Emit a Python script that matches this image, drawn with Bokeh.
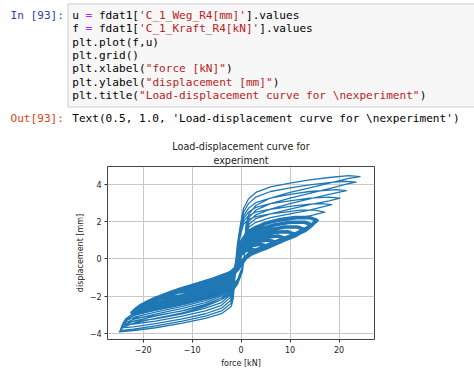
from bokeh.plotting import figure
from bokeh.layouts import column
from bokeh.models import Range1d, FixedTicker, CustomJSTickFormatter, ColumnDataSource, Title
from bokeh.core.properties import value
from bokeh.embed import file_html
from bokeh.resources import INLINE

# ---------------- data: (force [kN], displacement [mm]) ----------------
# small cycles (dense band)
loop_b1 = [(-4, -1.0), (-3, -0.85), (-2, -0.7), (-0.8, -0.42), (0.2, -0.1), (0.9, 0.03), (2, 0.25), (3, 0.45),
           (2, 0.5), (0.9, 0.42), (-0.1, 0.22), (-0.5, -0.1), (-1.0, -0.45), (-1.6, -0.75), (-2.5, -0.95), (-4, -1.0)]
loop_b2 = [(-7.3, -1.28), (-6.3, -1.15), (-4, -0.93), (-2, -0.73), (-0.8, -0.45), (0.2, -0.12), (0.9, 0.04), (2, 0.24),
           (4, 0.48), (5, 0.7),
           (3.8, 0.78), (2.2, 0.7), (1, 0.55), (-0.1, 0.3), (-0.5, -0.1), (-1.0, -0.5), (-1.6, -0.85), (-2.5, -1.1),
           (-5, -1.25), (-7.3, -1.28)]
loop_b3 = [(-10.8, -1.55), (-9.8, -1.42), (-7.3, -1.22), (-4, -0.96), (-2, -0.76), (-0.8, -0.48), (0.25, -0.14),
           (0.9, 0.05), (2, 0.25), (4.5, 0.52), (7, 0.9),
           (5.5, 1.0), (3.5, 0.92), (2, 0.8), (0.7, 0.6), (-0.2, 0.3), (-0.6, -0.15), (-1.1, -0.6), (-1.7, -0.95),
           (-2.7, -1.2), (-5, -1.4), (-8, -1.5), (-10.8, -1.55)]
loop_b4 = [(-14.1, -1.81), (-13, -1.68), (-10.8, -1.5), (-7.3, -1.25), (-4, -0.98), (-2, -0.78), (-0.8, -0.5),
           (0.3, -0.16), (1.0, 0.06), (2, 0.27), (5, 0.55), (7.5, 0.85), (9, 1.1),
           (7.5, 1.22), (5, 1.15), (3, 1.0), (1.5, 0.82), (0.3, 0.55), (-0.4, 0.2), (-0.7, -0.25), (-1.2, -0.7),
           (-1.8, -1.0), (-2.7, -1.28), (-5, -1.5), (-8, -1.65), (-11, -1.75), (-14.1, -1.81)]
loop_b5 = [(-17.5, -2.17), (-16.5, -2.02), (-14, -1.77), (-10.8, -1.52), (-7.3, -1.27), (-4, -1.0), (-2, -0.8),
           (-0.8, -0.53), (0.3, -0.18), (1.0, 0.07), (2, 0.28), (5, 0.57), (8, 0.9), (11, 1.3),
           (9.5, 1.45), (7, 1.42), (4.5, 1.28), (2.5, 1.1), (1.1, 0.9), (0.1, 0.6), (-0.4, 0.25), (-0.7, -0.2),
           (-1.2, -0.7), (-1.8, -1.05), (-2.7, -1.35), (-5, -1.6), (-8, -1.8), (-11, -1.95), (-14, -2.07),
           (-17.5, -2.17)]
loop_b6 = [(-20, -2.45), (-19, -2.3), (-17.5, -2.12), (-14, -1.8), (-10.8, -1.54), (-7.3, -1.3), (-4, -1.03),
           (-2, -0.83), (-0.8, -0.56), (0.3, -0.2), (1.0, 0.08), (2, 0.3), (5, 0.6), (8, 0.92), (11, 1.22), (13, 1.55),
           (11.5, 1.7), (9, 1.7), (6, 1.55), (3.5, 1.35), (1.7, 1.12), (0.5, 0.85), (-0.3, 0.5), (-0.6, 0.0),
           (-1.2, -0.6), (-1.7, -1.05), (-2.7, -1.45), (-5, -1.72), (-8, -1.92), (-11, -2.1), (-14, -2.25),
           (-17.5, -2.38), (-20, -2.45)]
loop_b7 = [(-21.5, -2.7), (-20.5, -2.5), (-17.5, -2.15), (-14, -1.83), (-10.8, -1.57), (-7.3, -1.32), (-4, -1.05),
           (-2, -0.85), (-0.8, -0.58), (0.3, -0.2), (1.0, 0.1), (2, 0.33), (5, 0.63), (8, 0.95), (11, 1.25), (13, 1.5),
           (14.5, 1.8),
           (13, 1.95), (10, 1.95), (7, 1.82), (4, 1.6), (2, 1.35), (0.6, 1.05), (-0.3, 0.65), (-0.6, 0.05),
           (-1.2, -0.6), (-1.7, -1.12), (-2.7, -1.55), (-5, -1.85), (-8, -2.05), (-11, -2.22), (-14, -2.38),
           (-17.5, -2.55), (-21.5, -2.7)]
loop_b8 = [(-22.3, -2.9), (-21, -2.62), (-17.5, -2.22), (-14, -1.88), (-10.8, -1.62), (-7.3, -1.36), (-4, -1.08),
           (-2, -0.88), (-0.8, -0.6), (0.3, -0.2), (1.0, 0.1), (2, 0.35), (5, 0.68), (8, 1.0), (11, 1.32), (13, 1.58),
           (14.5, 1.82), (15.5, 2.05),
           (14, 2.2), (11, 2.2), (8, 2.1), (5, 1.9), (2.5, 1.6), (0.9, 1.25), (-0.2, 0.8), (-0.6, 0.1), (-1.2, -0.6),
           (-1.7, -1.2), (-2.7, -1.65), (-5, -1.95), (-8, -2.15), (-11, -2.35), (-14, -2.52), (-17.5, -2.7),
           (-20.5, -2.85), (-22.3, -2.9)]

# large cycles (fan)
loop_f1 = [(-23.5, -3.2), (-22.5, -3.02), (-21, -2.9), (-17.5, -2.65), (-12, -2.34), (-7.3, -2.05), (-4, -1.78),
           (-2, -1.5), (-0.7, -1.1), (0.25, -0.45), (0.6, 0), (0.75, 0.7), (1.0, 1.25), (1.6, 1.55), (3, 1.75),
           (6, 1.95), (10, 2.1), (14, 2.3), (17.1, 2.5),
           (15, 2.6), (12, 2.6), (9, 2.5), (6, 2.4), (3, 2.25), (1.5, 2.1), (0.5, 1.85), (-0.1, 1.3), (-0.75, 0.4),
           (-1.2, -0.3), (-1.35, -1.0), (-1.6, -1.5), (-2.5, -1.85), (-4, -2.2), (-7.3, -2.5), (-12, -2.8),
           (-17.5, -3.05), (-21.5, -3.17), (-23.5, -3.2)]
loop_f2 = [(-24, -3.4), (-23, -3.18), (-22, -3.05), (-17.5, -2.75), (-12, -2.44), (-7.3, -2.15), (-4, -1.85),
           (-2, -1.55), (-0.7, -1.15), (0.25, -0.5), (0.6, 0), (0.75, 0.75), (1.0, 1.35), (1.6, 1.7), (3, 1.95),
           (6, 2.2), (10, 2.4), (14, 2.6), (18.5, 2.9),
           (16.5, 2.95), (14, 2.92), (10, 2.8), (6, 2.65), (3, 2.5), (1.5, 2.3), (0.5, 2.0), (-0.1, 1.4), (-0.75, 0.45),
           (-1.2, -0.3), (-1.35, -1.05), (-1.6, -1.6), (-2.4, -1.98), (-4, -2.35), (-7.3, -2.65), (-12, -2.95),
           (-17.5, -3.22), (-22, -3.36), (-24, -3.4)]
loop_f3 = [(-24.3, -3.55), (-23.3, -3.3), (-22, -3.15), (-17.5, -2.86), (-12, -2.55), (-7.3, -2.25), (-4, -1.92),
           (-2, -1.6), (-0.7, -1.2), (0.25, -0.55), (0.6, 0), (0.75, 0.8), (1.0, 1.45), (1.6, 1.85), (3, 2.15),
           (6, 2.4), (10, 2.65), (14, 2.9), (18, 3.1), (20.2, 3.25),
           (18, 3.3), (14, 3.25), (10, 3.1), (6, 2.95), (3, 2.75), (1.5, 2.5), (0.5, 2.15), (-0.1, 1.5), (-0.75, 0.5),
           (-1.2, -0.3), (-1.35, -1.1), (-1.6, -1.7), (-2.3, -2.1), (-4, -2.5), (-7.3, -2.8), (-12, -3.08),
           (-17.5, -3.35), (-22, -3.5), (-24.3, -3.55)]
loop_f4 = [(-24.5, -3.7), (-23.5, -3.42), (-22, -3.25), (-17.5, -2.97), (-12, -2.66), (-7.3, -2.35), (-4, -2.0),
           (-2, -1.68), (-0.7, -1.25), (0.25, -0.6), (0.6, 0), (0.75, 0.85), (1.0, 1.55), (1.6, 2.0), (3, 2.35),
           (6, 2.65), (10, 2.95), (14, 3.2), (18, 3.45), (21.5, 3.65),
           (19.5, 3.7), (14, 3.6), (10, 3.45), (6, 3.25), (3, 3.0), (1.5, 2.7), (0.5, 2.3), (-0.1, 1.6), (-0.75, 0.6),
           (-1.2, -0.3), (-1.35, -1.15), (-1.6, -1.8), (-2.2, -2.25), (-4, -2.65), (-7.3, -2.95), (-12, -3.22),
           (-17.5, -3.48), (-22, -3.65), (-24.5, -3.7)]
loop_f5 = [(-24.7, -3.85), (-23.8, -3.55), (-22, -3.35), (-17.5, -3.08), (-12, -2.78), (-7.3, -2.45), (-4, -2.1),
           (-2, -1.75), (-0.7, -1.3), (0.25, -0.65), (0.6, 0), (0.75, 0.9), (1.0, 1.65), (1.6, 2.2), (3, 2.6),
           (6, 2.95), (10, 3.25), (14, 3.5), (18, 3.75), (21.5, 4.0), (23.5, 4.1),
           (21, 4.15), (18, 4.08), (14, 3.95), (10, 3.8), (6, 3.6), (3, 3.3), (1.5, 2.95), (0.5, 2.5), (-0.1, 1.75),
           (-0.75, 0.7), (-1.2, -0.35), (-1.35, -1.2), (-1.6, -1.95), (-2.1, -2.4), (-4, -2.8), (-7.3, -3.08),
           (-12, -3.35), (-17.5, -3.6), (-22, -3.78), (-24.7, -3.85)]
loop_f6 = [(-24.9, -3.92), (-24, -3.65), (-22, -3.45), (-17.5, -3.2), (-12, -2.9), (-7.3, -2.55), (-4, -2.2),
           (-2, -1.85), (-0.7, -1.35), (0.25, -0.7), (0.6, 0), (0.75, 1.0), (1.0, 1.8), (1.6, 2.4), (3, 2.85),
           (6, 3.25), (10, 3.55), (14, 3.8), (18, 4.05), (22, 4.3), (24.3, 4.4),
           (22, 4.45), (18, 4.35), (14, 4.22), (10, 4.05), (6, 3.85), (3, 3.55), (1.5, 3.2), (0.5, 2.7), (-0.1, 1.9),
           (-0.75, 0.8), (-1.2, -0.4), (-1.35, -1.3), (-1.6, -2.1), (-2.0, -2.55), (-4, -2.95), (-7.3, -3.2),
           (-12, -3.45), (-17.5, -3.7), (-22, -3.85), (-24.9, -3.92)]

band_loops = [loop_b1, loop_b2, loop_b3, loop_b4, loop_b5, loop_b6, loop_b7, loop_b8]
fan_loops = [loop_f1, loop_f2, loop_f3, loop_f4, loop_f5, loop_f6]

x_ticks = [-20, -10, 0, 10, 20]
y_ticks = [-4, -2, 0, 2, 4]

title_line1 = "Load-displacement curve for"
title_line2 = "experiment"
x_label = "force [kN]"
y_label = "displacement [mm]"

# ---------------- notebook cell text ----------------
K, OP, S = "#000000", "#AA22FF", "#BA2121"
code_lines = [
    [("u ", K), ("=", OP), (" fdat1[", K), ("'C_1_Weg_R4[mm]'", S), ("].values", K)],
    [("f ", K), ("=", OP), (" fdat1[", K), ("'C_1_Kraft_R4[kN]'", S), ("].values", K)],
    [("plt.plot(f,u)", K)],
    [("plt.grid()", K)],
    [("plt.xlabel(", K), ('"force [kN]"', S), (")", K)],
    [("plt.ylabel(", K), ('"displacement [mm]"', S), (")", K)],
    [("plt.title(", K), ('"Load-displacement curve for \\nexperiment"', S), (")", K)],
]
out_text = "Text(0.5, 1.0, 'Load-displacement curve for \\nexperiment')"

W = 474
H_CODE = 138
H_PLOT = 238
CW = 6.683          # monospace advance at 11.1px
X0 = 71.7
LINE_Y = [15, 28.3, 41.7, 55, 68.3, 81.7, 95]

tx, ty, tt, tc = [], [], [], []
for yy, toks in zip(LINE_Y, code_lines):
    col = 0
    for s, c in toks:
        stripped = s.lstrip(" ")
        lead = len(s) - len(stripped)
        tx.append(X0 + (col + lead) * CW)
        ty.append(yy)
        tt.append(stripped.rstrip(" "))
        tc.append(c)
        col += len(s)
tx += [10, 10, X0]
ty += [15, 118.3, 118.3]
tt += ["In [93]:", "Out[93]:", out_text]
tc += ["#303F9F", "#D84315", "#000000"]

pc = figure(width=W, height=H_CODE, x_range=Range1d(0, W), y_range=Range1d(H_CODE, 0),
            output_backend="svg", toolbar_location=None, min_border=0,
            x_axis_type=None, y_axis_type=None)
pc.frame_align = False
pc.outline_line_color = None
pc.grid.visible = False
pc.quad(left=[67.5], right=[W + 2], top=[3.5], bottom=[106.5],
        fill_color="#f7f7f7", line_color="#cfcfcf", line_width=1)
pc.text(x="x", y="y", text="t", text_color="c",
        source=ColumnDataSource(dict(x=tx, y=ty, t=tt, c=tc)),
        text_font=value("DejaVu Sans Mono"), text_font_size="11.1px",
        text_baseline="middle", text_align="left")

# ---------------- the chart ----------------
p = figure(width=W, height=H_PLOT, x_range=Range1d(-27.3, 27.25), y_range=Range1d(-4.33, 4.94),
           output_backend="svg", toolbar_location=None,
           min_border_left=107, min_border_right=100, min_border_top=27, min_border_bottom=37)
p.frame_align = False
p.title.visible = False
for txt, so in ((title_line2, 2), (title_line1, 0)):
    t = Title(text=txt, align="center", text_font="DejaVu Sans", text_font_size="9.6px",
              text_font_style="normal", text_color="#222222", standoff=so)
    p.add_layout(t, "above")

band_f = [pt[0] for lp in band_loops for pt in lp]
band_u = [pt[1] for lp in band_loops for pt in lp]
fan_f = [pt[0] for lp in fan_loops for pt in lp]
fan_u = [pt[1] for lp in fan_loops for pt in lp]

p.line(band_f, band_u, line_color="#1f77b4", line_width=3.6, line_join="round")
p.line(fan_f, fan_u, line_color="#1f77b4", line_width=1.3, line_join="round")

fmt = CustomJSTickFormatter(code="return tick < 0 ? '\\u2212' + (-tick) : '' + tick;")
p.xaxis.ticker = FixedTicker(ticks=x_ticks)
p.yaxis.ticker = FixedTicker(ticks=y_ticks)
p.xaxis.formatter = fmt
p.yaxis.formatter = fmt
p.xaxis.axis_label = x_label
p.yaxis.axis_label = y_label
for ax in (p.xaxis, p.yaxis):
    ax.axis_line_color = None
    ax.major_tick_in = 0
    ax.major_tick_out = 3
    ax.minor_tick_line_color = None
    ax.major_tick_line_color = "#333333"
    ax.major_label_text_font = "DejaVu Sans"
    ax.major_label_text_font_size = "8px"
    ax.major_label_text_color = "#222222"
    ax.major_label_standoff = 3
    ax.axis_label_text_font = "DejaVu Sans"
    ax.axis_label_text_font_size = "8px"
    ax.axis_label_text_font_style = "normal"
    ax.axis_label_text_color = "#222222"
p.xaxis.axis_label_standoff = 3
p.yaxis.axis_label_standoff = 2
p.grid.grid_line_color = "#c8c8c8"
p.grid.grid_line_width = 1
p.outline_line_color = "#444444"
p.outline_line_width = 1

layout = column(pc, p, spacing=0)
open("out.html", "w").write(file_html(layout, INLINE))
